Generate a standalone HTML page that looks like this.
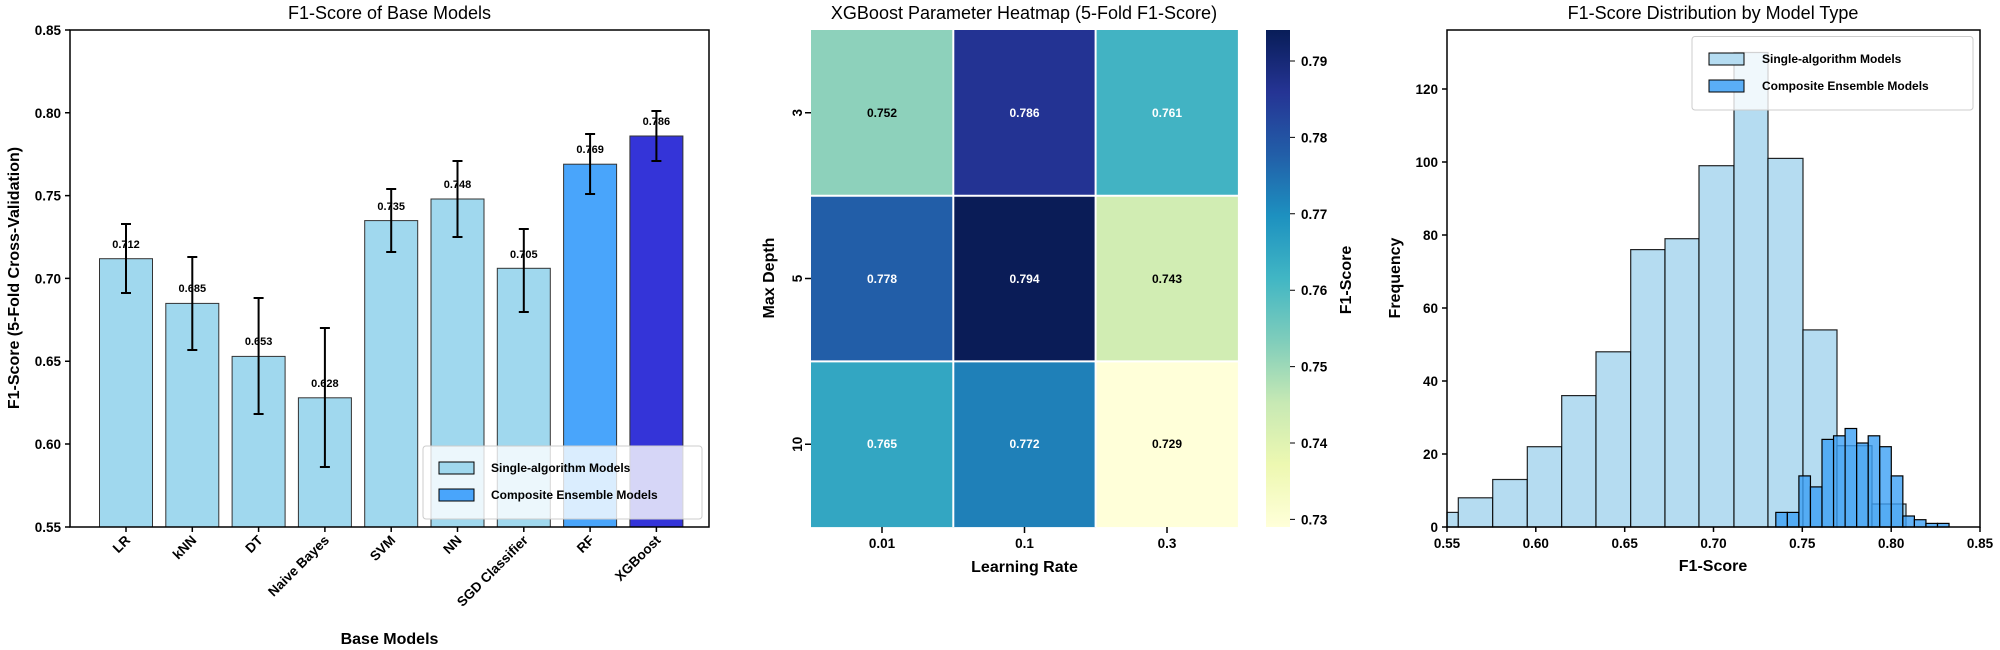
<!DOCTYPE html>
<html><head><meta charset="utf-8"><style>
html,body{margin:0;padding:0;background:#fff;}
svg{display:block;font-family:"Liberation Sans",Arial,sans-serif;}
.t{font-size:13.5px;font-weight:bold;fill:#000;}
.v{font-size:11px;font-weight:bold;fill:#000;}
.lab{font-size:16px;font-weight:bold;fill:#000;}
.title{font-size:18px;fill:#000;}
.lg{font-size:12px;font-weight:bold;fill:#000;}
</style></head><body>
<svg width="2000" height="650" viewBox="0 0 2000 650" xmlns="http://www.w3.org/2000/svg">
<defs>
<linearGradient id="cb" x1="0" y1="1" x2="0" y2="0">
<stop offset="0" stop-color="#ffffd9"/><stop offset="0.125" stop-color="#edf8b1"/><stop offset="0.25" stop-color="#c7e9b4"/><stop offset="0.375" stop-color="#7fcdbb"/><stop offset="0.5" stop-color="#41b6c4"/><stop offset="0.625" stop-color="#1d91c0"/><stop offset="0.75" stop-color="#225ea8"/><stop offset="0.875" stop-color="#253494"/><stop offset="1" stop-color="#081d58"/>
</linearGradient>
</defs>

<!-- ===== Panel 1 ===== -->
<text class="title" x="389.5" y="19" text-anchor="middle">F1-Score of Base Models</text>
<g stroke="#333" stroke-width="1">
<rect x="99.5" y="258.7" width="53" height="268.3" fill="#a0d8ee"/>
<rect x="165.8" y="303.4" width="53" height="223.6" fill="#a0d8ee"/>
<rect x="232.1" y="356.4" width="53" height="170.6" fill="#a0d8ee"/>
<rect x="298.4" y="397.8" width="53" height="129.2" fill="#a0d8ee"/>
<rect x="364.7" y="220.6" width="53" height="306.4" fill="#a0d8ee"/>
<rect x="431" y="199" width="53" height="328" fill="#a0d8ee"/>
<rect x="497.3" y="268.3" width="53" height="258.7" fill="#a0d8ee"/>
<rect x="563.6" y="164.2" width="53" height="362.8" fill="#49a5fb"/>
<rect x="629.9" y="136" width="53" height="391" fill="#3434d8"/>
</g>
<g stroke="#000" stroke-width="2">
<path d="M126 224V293M121 224H131M121 293H131"/>
<path d="M192.3 257V350M187.3 257H197.3M187.3 350H197.3"/>
<path d="M258.6 298V414M253.6 298H263.6M253.6 414H263.6"/>
<path d="M324.9 328V467M319.9 328H329.9M319.9 467H329.9"/>
<path d="M391.2 189V252M386.2 189H396.2M386.2 252H396.2"/>
<path d="M457.5 161V237M452.5 161H462.5M452.5 237H462.5"/>
<path d="M523.8 229V312M518.8 229H528.8M518.8 312H528.8"/>
<path d="M590.1 134V194M585.1 134H595.1M585.1 194H595.1"/>
<path d="M656.4 111V161M651.4 111H661.4M651.4 161H661.4"/>
</g>
<g class="v" text-anchor="middle">
<text x="126" y="248">0.712</text><text x="192.3" y="292">0.685</text><text x="258.6" y="345">0.653</text><text x="324.9" y="387">0.628</text><text x="391.2" y="210">0.735</text><text x="457.5" y="188">0.748</text><text x="523.8" y="258">0.705</text><text x="590.1" y="153">0.769</text><text x="656.4" y="125">0.786</text>
</g>
<rect x="423" y="446" width="279" height="73" rx="3" fill="#fff" fill-opacity="0.8" stroke="#ccc"/>
<rect x="439" y="462" width="35" height="12" fill="#a0d8ee" stroke="#000"/>
<rect x="439" y="489" width="35" height="12" fill="#49a5fb" stroke="#000"/>
<text class="lg" x="491" y="472">Single-algorithm Models</text>
<text class="lg" x="491" y="499">Composite Ensemble Models</text>
<rect x="70" y="30" width="639" height="497" fill="none" stroke="#000" stroke-width="1.5"/>
<g stroke="#000" stroke-width="1.5">
<path d="M65 30H70M65 112.8H70M65 195.6H70M65 278.4H70M65 361.2H70M65 444H70M65 527H70"/>
<path d="M126 527V532M192.3 527V532M258.6 527V532M324.9 527V532M391.2 527V532M457.5 527V532M523.8 527V532M590.1 527V532M656.4 527V532"/>
</g>
<g class="t" text-anchor="end">
<text x="61" y="35">0.85</text><text x="61" y="117.8">0.80</text><text x="61" y="200.6">0.75</text><text x="61" y="283.4">0.70</text><text x="61" y="366.2">0.65</text><text x="61" y="449">0.60</text><text x="61" y="532">0.55</text>
</g>
<g class="t" text-anchor="end">
<text transform="translate(131,541) rotate(-45)">LR</text>
<text transform="translate(197.3,541) rotate(-45)">kNN</text>
<text transform="translate(263.6,541) rotate(-45)">DT</text>
<text transform="translate(329.9,541) rotate(-45)">Naive Bayes</text>
<text transform="translate(396.2,541) rotate(-45)">SVM</text>
<text transform="translate(462.5,541) rotate(-45)">NN</text>
<text transform="translate(528.8,541) rotate(-45)">SGD Classifier</text>
<text transform="translate(595.1,541) rotate(-45)">RF</text>
<text transform="translate(661.4,541) rotate(-45)">XGBoost</text>
</g>
<text class="lab" x="389.5" y="644" text-anchor="middle">Base Models</text>
<text class="lab" transform="translate(19,278) rotate(-90)" text-anchor="middle">F1-Score (5-Fold Cross-Validation)</text>

<!-- ===== Panel 2 heatmap ===== -->
<text class="title" x="1024" y="19" text-anchor="middle">XGBoost Parameter Heatmap (5-Fold F1-Score)</text>
<g>
<rect x="811" y="30" width="142.3" height="165.7" fill="#8dd1bb"/>
<rect x="953.3" y="30" width="142.3" height="165.7" fill="#233393"/>
<rect x="1095.6" y="30" width="142.3" height="165.7" fill="#42b3c3"/>
<rect x="811" y="195.7" width="142.3" height="165.7" fill="#225ea8"/>
<rect x="953.3" y="195.7" width="142.3" height="165.7" fill="#0a1c57"/>
<rect x="1095.6" y="195.7" width="142.3" height="165.7" fill="#d1edb3"/>
<rect x="811" y="361.4" width="142.3" height="165.7" fill="#33a6c2"/>
<rect x="953.3" y="361.4" width="142.3" height="165.7" fill="#1f80b8"/>
<rect x="1095.6" y="361.4" width="142.3" height="165.7" fill="#ffffd9"/>
</g>
<g stroke="#fff" stroke-width="2">
<path d="M953.3 30V527M1095.6 30V527M811 195.7H1238M811 361.4H1238"/>
</g>
<g class="v" text-anchor="middle" style="font-size:12px">
<text x="882" y="117" fill="#000">0.752</text><text x="1024.5" y="117" style="fill:#fff">0.786</text><text x="1167" y="117" style="fill:#fff">0.761</text>
<text x="882" y="283" style="fill:#fff">0.778</text><text x="1024.5" y="283" style="fill:#fff">0.794</text><text x="1167" y="283">0.743</text>
<text x="882" y="448" style="fill:#fff">0.765</text><text x="1024.5" y="448" style="fill:#fff">0.772</text><text x="1167" y="448">0.729</text>
</g>
<g stroke="#000" stroke-width="1.5">
<path d="M805 112.8H811M805 278.5H811M805 444.2H811M882 527V533M1024.5 527V533M1167 527V533"/>
</g>
<g class="t" text-anchor="middle">
<text transform="translate(797,112.8) rotate(-90)" y="5">3</text>
<text transform="translate(797,278.5) rotate(-90)" y="5">5</text>
<text transform="translate(797,444.2) rotate(-90)" y="5">10</text>
<text x="882" y="548">0.01</text><text x="1024.5" y="548">0.1</text><text x="1167" y="548">0.3</text>
</g>
<text class="lab" x="1024.5" y="572" text-anchor="middle">Learning Rate</text>
<text class="lab" transform="translate(774,278) rotate(-90)" text-anchor="middle">Max Depth</text>
<rect x="1266" y="30" width="24" height="497" fill="url(#cb)"/>
<g stroke="#000" stroke-width="1">
<path d="M1290 61H1295M1290 137.4H1295M1290 213.8H1295M1290 290.2H1295M1290 366.6H1295M1290 443H1295M1290 519.4H1295"/>
</g>
<g class="t">
<text x="1301" y="66">0.79</text><text x="1301" y="142.4">0.78</text><text x="1301" y="218.8">0.77</text><text x="1301" y="295.2">0.76</text><text x="1301" y="371.6">0.75</text><text x="1301" y="448">0.74</text><text x="1301" y="524.4">0.73</text>
</g>
<text class="lab" transform="translate(1351,280) rotate(-90)" text-anchor="middle">F1-Score</text>

<!-- ===== Panel 3 histogram ===== -->
<text class="title" x="1713" y="19" text-anchor="middle">F1-Score Distribution by Model Type</text>
<g fill="#b5dcf1" stroke="#000" stroke-opacity="0.85" stroke-width="1.2">
<rect x="1447" y="512.4" width="11.3" height="14.6"/>
<rect x="1458.3" y="497.8" width="34.4" height="29.2"/>
<rect x="1492.7" y="479.5" width="34.6" height="47.5"/>
<rect x="1527.3" y="446.7" width="34.4" height="80.3"/>
<rect x="1561.7" y="395.6" width="34.3" height="131.4"/>
<rect x="1596" y="351.8" width="34.7" height="175.2"/>
<rect x="1630.7" y="249.6" width="34.3" height="277.4"/>
<rect x="1665" y="238.7" width="34" height="288.3"/>
<rect x="1699" y="165.7" width="35" height="361.3"/>
<rect x="1734" y="52.5" width="34" height="474.5"/>
<rect x="1768" y="158.4" width="35" height="368.6"/>
<rect x="1803" y="329.9" width="34" height="197.1"/>
<rect x="1837" y="445.7" width="35" height="81.3"/>
<rect x="1872" y="504" width="34" height="23"/>
</g>
<g fill="rgb(60,160,245)" fill-opacity="0.8" stroke="#000" stroke-width="1.2">
<rect x="1775.8" y="512.4" width="11.55" height="14.6"/>
<rect x="1787.35" y="512.4" width="11.55" height="14.6"/>
<rect x="1798.9" y="475.9" width="11.55" height="51.1"/>
<rect x="1810.45" y="486.9" width="11.55" height="40.1"/>
<rect x="1822" y="439.4" width="11.55" height="87.6"/>
<rect x="1833.55" y="435.8" width="11.55" height="91.2"/>
<rect x="1845.1" y="428.5" width="11.55" height="98.5"/>
<rect x="1856.65" y="443" width="11.55" height="84"/>
<rect x="1868.2" y="435.8" width="11.55" height="91.2"/>
<rect x="1879.75" y="446.7" width="11.55" height="80.3"/>
<rect x="1891.3" y="475.9" width="11.55" height="51.1"/>
<rect x="1902.85" y="516" width="11.55" height="11"/>
<rect x="1914.4" y="519.7" width="11.55" height="7.3"/>
<rect x="1925.95" y="523.4" width="11.55" height="3.6"/>
<rect x="1937.5" y="523.4" width="11.55" height="3.6"/>
</g>
<rect x="1692" y="36.5" width="281" height="73.5" rx="3" fill="#fff" fill-opacity="0.8" stroke="#ccc"/>
<rect x="1709" y="53" width="35" height="12" fill="#b5dcf1" stroke="#000"/>
<rect x="1709" y="80" width="35" height="12" fill="#5aaef6" stroke="#000"/>
<text class="lg" x="1762" y="63">Single-algorithm Models</text>
<text class="lg" x="1762" y="90">Composite Ensemble Models</text>
<rect x="1447" y="30" width="533" height="497" fill="none" stroke="#000" stroke-width="1.5"/>
<g stroke="#000" stroke-width="1.5">
<path d="M1442 527H1447M1442 454H1447M1442 381H1447M1442 308H1447M1442 235H1447M1442 162H1447M1442 89H1447"/>
<path d="M1447 527V532M1535.8 527V532M1624.7 527V532M1713.5 527V532M1802.3 527V532M1891.2 527V532M1980 527V532"/>
</g>
<g class="t" text-anchor="end">
<text x="1438" y="532">0</text><text x="1438" y="459">20</text><text x="1438" y="386">40</text><text x="1438" y="313">60</text><text x="1438" y="240">80</text><text x="1438" y="167">100</text><text x="1438" y="94">120</text>
</g>
<g class="t" text-anchor="middle">
<text x="1447" y="548">0.55</text><text x="1535.8" y="548">0.60</text><text x="1624.7" y="548">0.65</text><text x="1713.5" y="548">0.70</text><text x="1802.3" y="548">0.75</text><text x="1891.2" y="548">0.80</text><text x="1980" y="548">0.85</text>
</g>
<text class="lab" x="1713" y="571" text-anchor="middle">F1-Score</text>
<text class="lab" transform="translate(1400,278) rotate(-90)" text-anchor="middle">Frequency</text>
</svg>
</body></html>
